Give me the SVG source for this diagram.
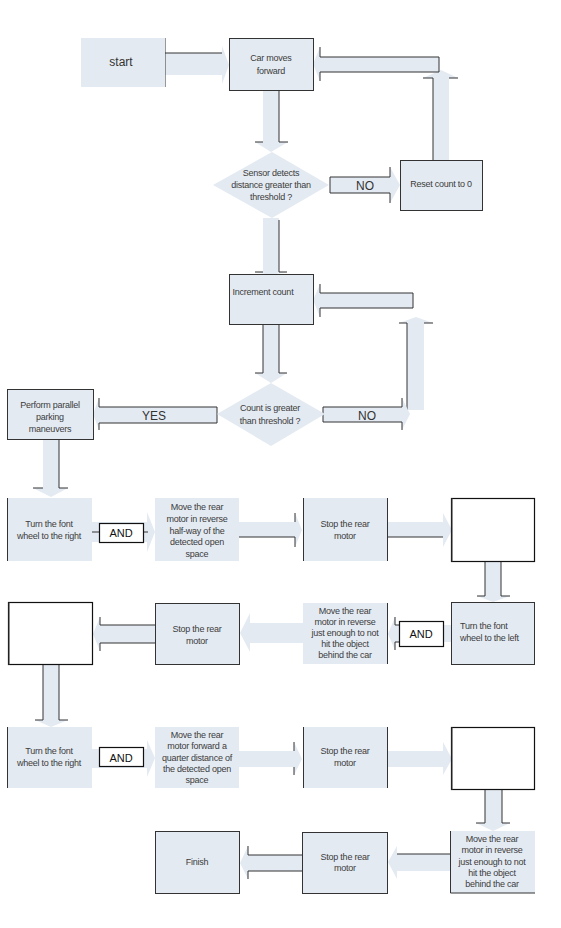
<svg xmlns="http://www.w3.org/2000/svg" width="561" height="928" viewBox="0 0 561 928">
<style>
.f{fill:#e4eaf2}
.b{fill:#e4eaf2;stroke:#333;stroke-width:1}
.w{fill:#fff;stroke:#111;stroke-width:1.2}
.l{stroke:#333;stroke-width:1;fill:none}
.t{font-family:"Liberation Sans",Arial,sans-serif;font-size:9px;fill:#3c3c3c;text-anchor:middle;letter-spacing:-0.25px}
.ts{text-anchor:start}
.tl{font-family:"Liberation Sans",Arial,sans-serif;font-size:12px;fill:#333;text-anchor:middle}
.a{font-family:"Liberation Sans",Arial,sans-serif;font-size:11px;fill:#111;text-anchor:middle}
</style>
<rect width="561" height="928" fill="#fff"/>
<g id="connectors">
<polygon class="f" points="165,53 222,53 222,46 229,65 222,84 222,75 165,75"/>
<path class="l" d="M165,38V87M165,53H222"/>
<polygon class="f" points="263,90 279,90 279,142 288,142 271,152 255,142 263,142"/>
<path class="l" d="M279,90V142M255,142H263M279,142H288"/>
<polygon class="f" points="330,177 390,177 390,167 400,185 390,203 390,193 330,193"/>
<path class="l" d="M390,167V177H330V193H390V203"/>
<polygon class="f" points="433,160 433,78 423,78 441,70 458,78 449,78 449,160"/>
<path class="l" d="M433,160V78M423,78H433M449,78H458"/>
<polygon class="f" points="439,57 320,57 320,47 313,64 320,81 320,72 439,72"/>
<path class="l" d="M320,47V57H439V72H320V81"/>
<polygon class="f" points="263,218 279,218 279,272 287,272 271,275 255,272 263,272"/>
<path class="l" d="M279,220V272M255,272H263M279,272H287"/>
<polygon class="f" points="413,293 320,293 320,284 313,300 320,317 320,308 413,308"/>
<path class="l" d="M320,284V293H413V308H320V317"/>
<polygon class="f" points="407,410 407,323 399,323 416,317 433,323 424,323 424,410"/>
<path class="l" d="M407,410V323M399,323H407M424,323H433"/>
<polygon class="f" points="263,324 279,324 279,373 287,373 271,383 255,373 263,373"/>
<path class="l" d="M263,324V373M279,324V373M255,373H263M279,373H287"/>
<polygon class="f" points="323,407 402,407 402,398 410,414 402,430 402,422 323,422"/>
<path class="l" d="M402,398V407H323V422H402V430"/>
<polygon class="f" points="217,407 99,407 99,398 93,414 99,430 99,423 217,423"/>
<path class="l" d="M99,398V407H217V423H99V430"/>
<polygon class="f" points="43,439 59,439 59,488 68,488 51,497 33,488 43,488"/>
<path class="l" d="M59,439V488M33,488H43M59,488H68"/>
<polygon class="f" points="92,522 147,522 147,512 155,532 147,552 147,542 92,542"/>
<path class="l" d="M92,532H99M143,532H148"/>
<polygon class="f" points="239,522 295,522 295,513 302,530 295,547 295,537 239,537"/>
<path class="l" d="M239,537H295M295,513V522M295,537V547"/>
<polygon class="f" points="387,522 443,522 443,513 452,530 443,547 443,537 387,537"/>
<path class="l" d="M387,537H443"/>
<polygon class="f" points="485,561 501,561 501,596 510,596 493,602 477,596 485,596"/>
<path class="l" d="M485,561V596M501,561V596M477,596H485M501,596H510"/>
<polygon class="f" points="451,625 395,625 395,617 388,634 395,650 395,642 451,642"/>
<path class="l" d="M395,617V625H399M395,650V642H399"/>
<polygon class="f" points="303,623 250,623 250,613 240,633 250,652 250,643 303,643"/>
<polygon class="f" points="155,625 100,625 100,617 93,634 100,651 100,643 155,643"/>
<path class="l" d="M100,617V625H155M100,651V643H155"/>
<polygon class="f" points="43,664 59,664 59,720 68,720 51,727 35,720 43,720"/>
<path class="l" d="M43,664V720M59,664V720M35,720H43M59,720H68"/>
<polygon class="f" points="92,749 147,749 147,740 155,758 147,777 147,768 92,768"/>
<polygon class="f" points="239,751 294,751 294,742 302,759 294,775 294,767 239,767"/>
<path class="l" d="M294,742V751M294,767V775"/>
<polygon class="f" points="387,751 443,751 443,742 452,759 443,775 443,767 387,767"/>
<polygon class="f" points="485,789 502,789 502,823 510,823 493,831 476,823 485,823"/>
<path class="l" d="M485,789V823M502,789V823M476,823H485M502,823H510"/>
<polygon class="f" points="450,854 397,854 397,846 388,862 397,879 397,871 450,871"/>
<path class="l" d="M397,854H450"/>
<polygon class="f" points="302,855 248,855 248,846 240,863 248,879 248,871 302,871"/>
<path class="l" d="M248,846V855H302M248,879V871H302"/>
</g>
<g id="start">
<rect class="f" x="81" y="38" width="84" height="49"/>
<text class="tl" x="121" y="66">start</text>
</g>
<g id="car">
<rect class="b" x="229.5" y="38.5" width="84" height="52"/>
<text class="t" x="271" y="61">Car moves</text>
<text class="t" x="271" y="74">forward</text>
</g>
<g id="sensor">
<polygon class="f" points="272,152 329,185 272,218 213,185"/>
<text class="t" x="271" y="176">Sensor detects</text>
<text class="t" x="271" y="188">distance greater than</text>
<text class="t" x="271" y="200">threshold  ?</text>
</g>
<g id="no1"><text class="tl" x="365" y="190">NO</text></g>
<g id="reset">
<rect class="b" x="400.5" y="160.5" width="82" height="50"/>
<text class="t" x="441" y="187">Reset count to  0</text>
</g>
<g id="increment">
<rect class="b" x="229.5" y="274.5" width="84" height="50"/>
<text class="t" x="263" y="295">Increment count</text>
</g>
<g id="count">
<polygon class="f" points="271,383 325,414 271,446 217,414"/>
<text class="t" x="270" y="411">Count is greater</text>
<text class="t" x="270" y="424">than threshold   ?</text>
</g>
<g id="no2"><text class="tl" x="367" y="420">NO</text></g>
<g id="yes"><text class="tl" x="154" y="420">YES</text></g>
<g id="perform">
<rect class="b" x="7.5" y="389.5" width="86" height="50"/>
<text class="t" x="50" y="408">Perform parallel</text>
<text class="t" x="50" y="420">parking</text>
<text class="t" x="50" y="432">maneuvers</text>
</g>
<g id="turn1">
<rect class="f" x="7" y="498" width="85" height="63"/>
<path class="l" d="M7.5,498V561"/>
<text class="t" x="49" y="527">Turn the font</text>
<text class="t" x="49" y="539">wheel to the right</text>
</g>
<g id="and1">
<rect class="w" x="99.5" y="523.5" width="44" height="19"/>
<text class="a" x="121" y="537">AND</text>
</g>
<g id="move1">
<rect class="f" x="155" y="498" width="84" height="63"/>
<text class="t" x="197" y="510">Move the rear</text>
<text class="t" x="197" y="522">motor in reverse</text>
<text class="t" x="197" y="534">half-way of the</text>
<text class="t" x="197" y="545">detected open</text>
<text class="t" x="197" y="557">space</text>
</g>
<g id="stop1">
<rect class="f" x="303" y="498" width="84" height="63"/>
<path class="l" d="M303.5,498V561M387.5,498V561"/>
<text class="t" x="345" y="527">Stop the rear</text>
<text class="t" x="345" y="539">motor</text>
</g>
<g id="white1">
<rect class="w" x="451.5" y="498.5" width="83" height="63"/>
<path class="l" d="M452,498V562" stroke-width="2"/>
</g>
<g id="turnleft">
<rect class="b" x="451.5" y="602.5" width="83" height="62"/>
<text class="t ts" x="460" y="629">Turn the font</text>
<text class="t ts" x="460" y="641">wheel to the left</text>
</g>
<g id="and2">
<rect class="w" x="399.5" y="621.5" width="44" height="25"/>
<text class="a" x="421" y="638">AND</text>
</g>
<g id="move2">
<rect class="f" x="303" y="603" width="84" height="61"/>
<path class="l" d="M387.5,603V664"/>
<text class="t" x="345" y="614">Move the rear</text>
<text class="t" x="345" y="625">motor in reverse</text>
<text class="t" x="345" y="636">just enough to not</text>
<text class="t" x="345" y="647">hit the object</text>
<text class="t" x="345" y="658">behind the car</text>
</g>
<g id="stop2">
<rect class="b" x="155.5" y="603.5" width="84" height="61"/>
<text class="t" x="197" y="632">Stop the rear</text>
<text class="t" x="197" y="644">motor</text>
</g>
<g id="white2">
<rect class="w" x="8.5" y="602.5" width="84" height="62"/>
<path class="l" d="M9,602V665" stroke-width="2"/>
</g>
<g id="turn2">
<rect class="f" x="7" y="727" width="85" height="61"/>
<path class="l" d="M7.5,727V788"/>
<text class="t" x="49" y="754">Turn the font</text>
<text class="t" x="49" y="766">wheel to the right</text>
</g>
<g id="and3">
<rect class="w" x="99.5" y="747.5" width="44" height="19"/>
<text class="a" x="121" y="762">AND</text>
</g>
<g id="movefwd">
<rect class="f" x="155" y="727" width="84" height="61"/>
<text class="t" x="197" y="738">Move the rear</text>
<text class="t" x="197" y="749">motor forward a</text>
<text class="t" x="197" y="761">quarter distance of</text>
<text class="t" x="197" y="772">the detected open</text>
<text class="t" x="197" y="783">space</text>
</g>
<g id="stop3">
<rect class="f" x="303" y="727" width="84" height="61"/>
<path class="l" d="M303.5,727V788M387.5,727V788"/>
<text class="t" x="345" y="754">Stop the rear</text>
<text class="t" x="345" y="766">motor</text>
</g>
<g id="white3">
<rect class="w" x="451.5" y="727.5" width="83" height="62"/>
<path class="l" d="M452,727V790" stroke-width="2"/>
</g>
<g id="moverev3">
<rect class="f" x="450" y="831" width="85" height="62"/>
<path class="l" d="M450.5,831V893H535"/>
<text class="t" x="492" y="842">Move the rear</text>
<text class="t" x="492" y="853">motor in reverse</text>
<text class="t" x="492" y="865">just enough to not</text>
<text class="t" x="492" y="876">hit the object</text>
<text class="t" x="492" y="887">behind the car</text>
</g>
<g id="stop4">
<rect class="b" x="302.5" y="832.5" width="85" height="61"/>
<text class="t" x="345" y="860">Stop the rear</text>
<text class="t" x="345" y="871">motor</text>
</g>
<g id="finish">
<rect class="b" x="155.5" y="831.5" width="84" height="62"/>
<text class="t" x="197" y="865">Finish</text>
</g>
</svg>
